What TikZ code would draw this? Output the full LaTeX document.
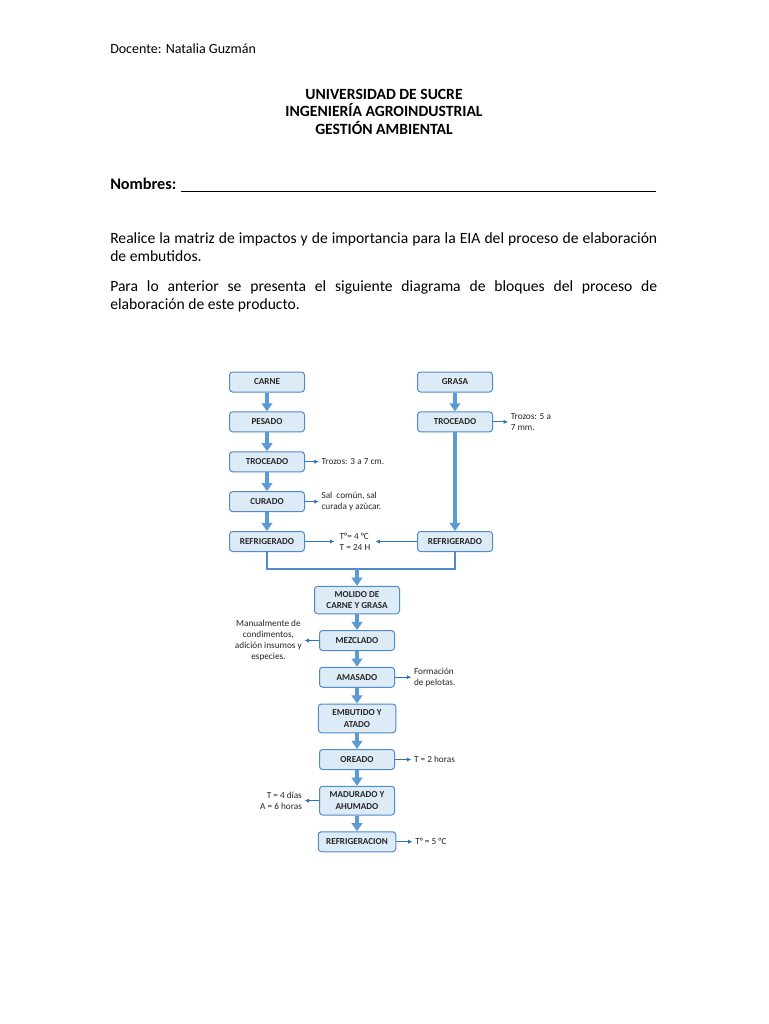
\documentclass[tikz,border=0pt]{standalone}
\usepackage{fontspec}
\setmainfont{Carlito}
\usetikzlibrary{arrows.meta,positioning}
\definecolor{boxblue}{RGB}{79,138,203}
\definecolor{boxfill}{RGB}{221,235,247}
\definecolor{flowblue}{RGB}{91,155,213}
\definecolor{noteblue}{RGB}{46,117,182}
\definecolor{inkgray}{RGB}{38,38,38}

\begin{document}
\begin{tikzpicture}[x=0.8pt,y=-0.8pt,
  stepbox/.style={draw=boxblue,fill=boxfill,rounded corners=2.5pt,line width=0.8pt,minimum width=60pt,minimum height=16pt,inner sep=1pt,align=center,font=\fontsize{7.3}{9.3}\selectfont\bfseries,text=inkgray},
  flow/.style={-{Triangle[width=8.5pt,length=6.5pt]},line width=2.8pt,draw=flowblue},
  note/.style={font=\fontsize{7.4}{9}\selectfont,text=inkgray,inner sep=2pt},
  notearrow/.style={-{Latex[width=3.5pt,length=3.5pt]},line width=0.8pt,draw=noteblue},
  merge/.style={line width=1.2pt,draw=boxblue}]
\useasboundingbox (0,0) rectangle (768,1024);
\fill[white] (0,0) rectangle (768,1024);

% encabezado
\node[anchor=base west,inner sep=0,font=\fontsize{11.2}{14}\selectfont] (docente) at (110,54) {Docente: Natalia Guzmán};
\node[anchor=north,inner sep=0,align=center,font=\fontsize{12.5}{14}\selectfont\bfseries] (titulo) at (384,89) {UNIVERSIDAD DE SUCRE\\INGENIERÍA AGROINDUSTRIAL\\GESTIÓN AMBIENTAL};
\node[anchor=base west,inner sep=0,font=\fontsize{13}{15}\selectfont\bfseries] (nombres) at (110,190) {Nombres: \rule[-1.8pt]{380pt}{1pt}};
\node[anchor=north west,inner sep=0,text width=437.6pt,align=justify,font=\fontsize{12.5}{14.4}\selectfont] (tarea) at (110,232) {Realice la matriz de impactos y de importancia para la EIA del proceso de elaboración\linebreak de embutidos.};
\node[anchor=north west,inner sep=0,text width=437.6pt,align=justify,font=\fontsize{12.5}{14.4}\selectfont] (intro) at (110,280) {Para lo anterior se presenta el siguiente diagrama de bloques del proceso de\linebreak elaboración de este producto.};

% linea de la carne
\node[stepbox] (carne) at (267,382) {CARNE};
\node[stepbox,below=15.1pt of carne] (pesado) {PESADO};
\node[stepbox,below=15.1pt of pesado] (trocL) {TROCEADO};
\node[stepbox,below=15.1pt of trocL] (curado) {CURADO};
\node[stepbox,below=15.1pt of curado] (refL) {REFRIGERADO};

% linea de la grasa
\node[stepbox] (grasa) at (455,382) {GRASA};
\node[stepbox,below=15.1pt of grasa] (trocR) {TROCEADO};
\node[stepbox] (refR) at (trocR |- refL) {REFRIGERADO};

% linea comun
\coordinate (join) at (357,569);
\node[stepbox,minimum width=68pt,minimum height=22pt] (molido) at (357,600) {MOLIDO DE\\CARNE Y GRASA};
\node[stepbox,below=12.6pt of molido] (mezclado) {MEZCLADO};
\node[stepbox,below=12.6pt of mezclado] (amasado) {AMASADO};
\node[stepbox,minimum width=62pt,minimum height=23pt,below=12.6pt of amasado] (embutido) {EMBUTIDO Y\\ATADO};
\node[stepbox,below=12.6pt of embutido] (oreado) {OREADO};
\node[stepbox,minimum height=23pt,below=12.6pt of oreado] (madurado) {MADURADO Y\\AHUMADO};
\node[stepbox,minimum width=62pt,below=12.6pt of madurado] (refrig) {REFRIGERACION};

% notas
\node[note,right=11pt of trocL] (nTrozL) {Trozos: 3 a 7 cm.};
\node[note,right=11pt of curado,align=left] (nSal) {Sal\ \ común, sal\\curada y azúcar.};
\node[note,right=12pt of trocR,align=left] (nTrozR) {Trozos: 5 a\\7 mm.};
\node[note,align=left,inner sep=4pt] (nTemp) at (refL.center -| 355,0) {T°= 4 °C\\T = 24 H};
\node[note,left=11.5pt of mezclado,align=center] (nManual) {Manualmente de\\condimentos,\\adición insumos y\\especies.};
\node[note,right=13pt of amasado,align=left] (nPelotas) {Formación\\de pelotas.};
\node[note,right=13pt of oreado] (nOreo) {T = 2 horas};
\node[note,left=11.5pt of madurado,align=right] (nMadura) {T = 4 días\\A = 6 horas};
\node[note,right=13pt of refrig] (nFrio) {T° = 5 °C};

% flechas
\draw[flow] (carne)--(pesado);
\draw[flow] (pesado)--(trocL);
\draw[flow] (trocL)--(curado);
\draw[flow] (curado)--(refL);
\draw[flow] (grasa)--(trocR);
\draw[flow] (trocR)--(refR);
\draw[merge] (refL.south) |- (join) -| (refR.south);
\draw[flow] (join)--(molido);
\draw[flow] (molido)--(mezclado);
\draw[flow] (mezclado)--(amasado);
\draw[flow] (amasado)--(embutido);
\draw[flow] (embutido)--(oreado);
\draw[flow] (oreado)--(madurado);
\draw[flow] (madurado)--(refrig);

\draw[notearrow] (trocL)--(nTrozL);
\draw[notearrow] (curado)--(nSal);
\draw[notearrow] (trocR)--(nTrozR);
\draw[notearrow] (refL.east)--(refL.east -| nTemp.west);
\draw[notearrow] (refR.west)--(refR.west -| nTemp.east);
\draw[notearrow] (mezclado)--(nManual);
\draw[notearrow] (amasado)--(nPelotas);
\draw[notearrow] (oreado)--(nOreo);
\draw[notearrow] (madurado)--(nMadura);
\draw[notearrow] (refrig)--(nFrio);
\end{tikzpicture}
\end{document}
